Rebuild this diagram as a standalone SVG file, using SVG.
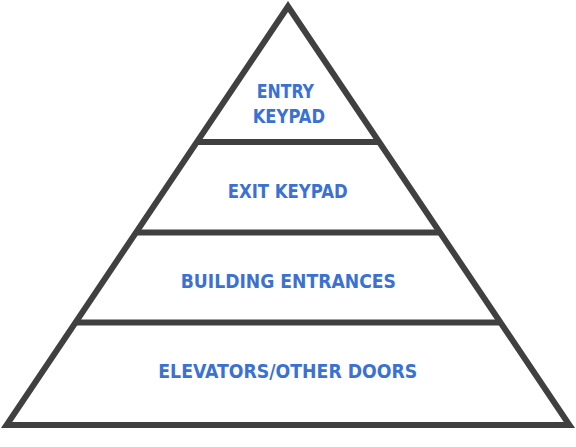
<svg xmlns="http://www.w3.org/2000/svg" width="576" height="447" viewBox="0 0 576 447">
<style>
.frame{fill:none;stroke:#404040;stroke-width:6;stroke-linejoin:miter;stroke-miterlimit:10}
.div{stroke:#404040;stroke-width:6}
.lbl{font-family:"DejaVu Sans Condensed","DejaVu Sans","Liberation Sans",sans-serif;font-stretch:condensed;font-weight:bold;font-size:20px;fill:#3b71d1}
</style>
<rect width="576" height="447" fill="#ffffff"/>
<g id="connectors">
<polygon class="frame" points="288,6.5 6.6,425 569.4,425"/>
<line class="div" x1="196.9" y1="142" x2="379.1" y2="142"/>
<line class="div" x1="136.4" y1="232.5" x2="439.6" y2="232.5"/>
<line class="div" x1="75.5" y1="322.5" x2="500.5" y2="322.5"/>
</g>
<g id="level1">
<text class="lbl" x="256.7" y="97.7" textLength="57.3" lengthAdjust="spacingAndGlyphs">ENTRY</text>
<text class="lbl" x="252.7" y="123" textLength="72.3" lengthAdjust="spacingAndGlyphs">KEYPAD</text>
</g>
<g id="level2">
<text class="lbl" x="227.7" y="198.3" textLength="120" lengthAdjust="spacingAndGlyphs">EXIT KEYPAD</text>
</g>
<g id="level3">
<text class="lbl" x="180.7" y="288.3" textLength="215.3" lengthAdjust="spacingAndGlyphs">BUILDING ENTRANCES</text>
</g>
<g id="level4">
<text class="lbl" x="158.3" y="377.5" textLength="259" lengthAdjust="spacingAndGlyphs">ELEVATORS/OTHER DOORS</text>
</g>
</svg>
